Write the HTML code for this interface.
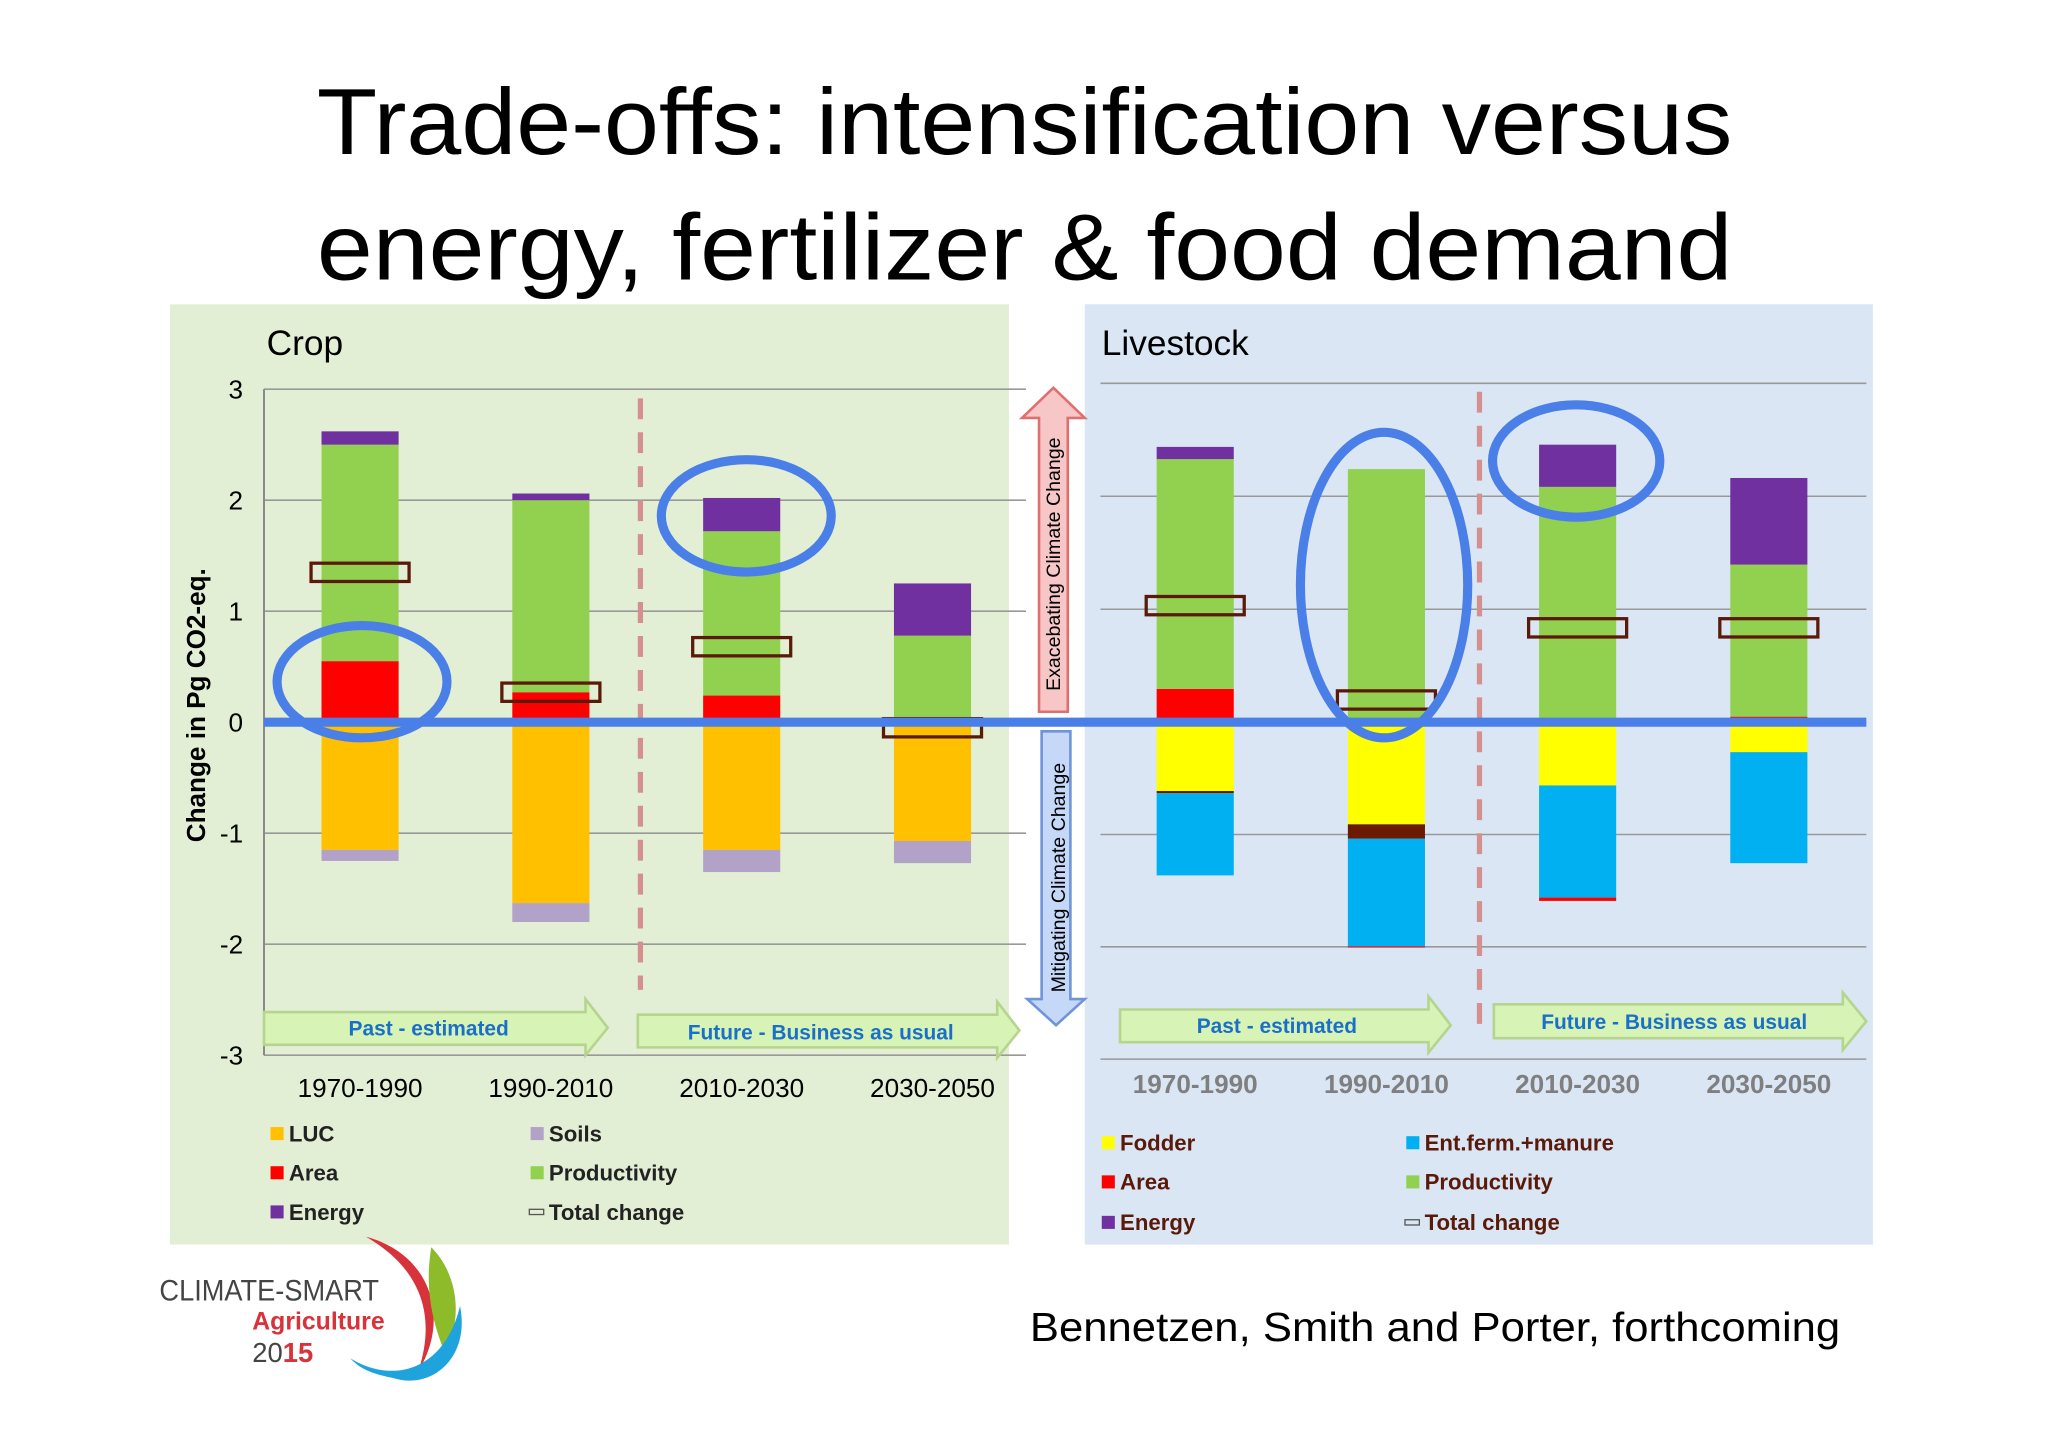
<!DOCTYPE html>
<html><head><meta charset="utf-8"><style>
html,body{margin:0;padding:0;background:#fff;}
svg{display:block;font-family:"Liberation Sans",sans-serif;}
</style></head><body>
<svg id="s" width="2048" height="1447" viewBox="0 0 1567 1108" preserveAspectRatio="none">
<text x="784" y="118" text-anchor="middle" font-size="72" textLength="1083" lengthAdjust="spacingAndGlyphs" fill="#000">Trade-offs: intensification versus</text>
<text x="784" y="214" text-anchor="middle" font-size="72" textLength="1083" lengthAdjust="spacingAndGlyphs" fill="#000">energy, fertilizer &amp; food demand</text>
<rect x="130" y="233" width="642" height="720" fill="#e3efd5"/>
<rect x="830" y="233" width="603" height="720" fill="#dae6f4"/>
<text x="204" y="272" font-size="27">Crop</text>
<text x="843" y="272" font-size="27">Livestock</text>
<g id="grid"></g>
<line x1="202" y1="298" x2="202" y2="808" stroke="#888" stroke-width="1.5"/>
<text transform="translate(157,540) rotate(-90)" text-anchor="middle" font-size="20" font-weight="bold">Change in Pg CO2-eq.</text>
<line x1="490" y1="305" x2="490" y2="758" stroke="#d48f8f" stroke-width="4" stroke-dasharray="16,10"/>
<line x1="1132" y1="300" x2="1132" y2="788" stroke="#d48f8f" stroke-width="4" stroke-dasharray="16,10"/>
<g id="bars"></g>
<line x1="202" y1="553" x2="1428" y2="553" stroke="#4a7fe8" stroke-width="7"/>
<g fill="none" stroke="#4a7fe8" stroke-width="7">
<ellipse cx="277" cy="522" rx="65" ry="43"/>
<ellipse cx="571" cy="395" rx="65" ry="43"/>
<ellipse cx="1059" cy="448" rx="64" ry="117"/>
<ellipse cx="1206" cy="353" rx="64" ry="43"/>
</g>
<path d="M795,545 L795,320 L782,320 L806,297 L830,320 L817,320 L817,545 Z" fill="#f7c6c6" stroke="#e07070" stroke-width="2"/>
<path d="M797,560 L797,765 L786,765 L808,785 L830,765 L819,765 L819,560 Z" fill="#c6d8f7" stroke="#6f95d8" stroke-width="2"/>
<text transform="translate(811,432) rotate(-90)" text-anchor="middle" font-size="15">Exacebating Climate Change</text>
<text transform="translate(815,672) rotate(-90)" text-anchor="middle" font-size="15">Mitigating Climate Change</text>
<g fill="#d7f3b5" stroke="#b5d58e" stroke-width="2">
<path d="M202,775 L448,775 L448,765 L465,787 L448,808 L448,800 L202,800 Z"/>
<path d="M488,777 L763,777 L763,767 L780,789 L763,810 L763,802 L488,802 Z"/>
<path d="M857,773 L1093,773 L1093,763 L1110,785 L1093,806 L1093,798 L857,798 Z"/>
<path d="M1143,769 L1410,769 L1410,760 L1428,782 L1410,804 L1410,795 L1143,795 Z"/>
</g>
<g fill="#1a6fc9" font-weight="bold" font-size="16" text-anchor="middle">
<text x="328" y="793">Past - estimated</text>
<text x="628" y="796">Future - Business as usual</text>
<text x="977" y="791">Past - estimated</text>
<text x="1281" y="788">Future - Business as usual</text>
</g>
<g id="labels"></g>
<g id="legend" font-size="17" font-weight="bold"></g>
<text x="122" y="996" font-size="23" fill="#444" textLength="168" lengthAdjust="spacingAndGlyphs">CLIMATE-SMART</text>
<text x="193" y="1018" font-size="19" font-weight="bold" fill="#d8323a">Agriculture</text>
<text x="193" y="1043" font-size="21" fill="#444">20<tspan fill="#d8323a" font-weight="bold">15</tspan></text>
<g>
<path d="M280,947 C330,960 345,1010 320,1050 C335,1005 320,970 280,947Z" fill="#d8323a"/>
<path d="M330,955 C350,975 355,1010 340,1035 C330,1010 325,985 330,955Z" fill="#8dbb2a"/>
<path d="M268,1040 C300,1060 340,1050 352,1000 C360,1040 330,1065 300,1055 C285,1052 275,1048 268,1040Z" fill="#1ea3dc"/>
</g>
<text x="1408" y="1027" text-anchor="end" font-size="31" textLength="620" lengthAdjust="spacingAndGlyphs">Bennetzen, Smith and Porter, forthcoming</text>
</svg>
<script>
const categories = ["1970-1990","1990-2010","2010-2030","2030-2050"];
const yTicks = [3,2,1,0,-1,-2,-3];
// Crop series (Pg CO2-eq)
const cropLUC = [-1.15,-1.63,-1.15,-1.07];
const cropSoils = [-0.1,-0.17,-0.2,-0.2];
const cropArea = [0.55,0.27,0.24,0.0];
const cropProductivity = [1.95,1.73,1.48,0.78];
const cropEnergy = [0.12,0.06,0.3,0.47];
const cropTotal = [1.35,0.27,0.68,-0.05];
// Livestock series
const lsFodder = [-0.62,-0.92,-0.57,-0.27];
const lsOther = [-0.02,-0.13,0,0];
const lsEnteric = [-0.74,-0.97,-1.01,-1.0];
const lsAreaNeg = [0,-0.01,-0.03,0];
const lsArea = [0.3,0,0,0.05];
const lsProductivity = [2.07,2.28,2.12,1.37];
const lsEnergy = [0.11,0,0.38,0.78];
const lsTotal = [1.05,0.2,0.85,0.85];

const NS="http://www.w3.org/2000/svg";
function mk(tag,attrs,parent){const e=document.createElementNS(NS,tag);for(const k in attrs)e.setAttribute(k,attrs[k]);parent.appendChild(e);return e;}
const y = v => 553 - v*85;
const cropX = i => 246 + i*146;
const lsX = i => 885 + i*146.3;
const BW = 59;
const grid=document.getElementById('grid'), bars=document.getElementById('bars'), labels=document.getElementById('labels'), legend=document.getElementById('legend');
yTicks.forEach(t=>{
  let l=mk('line',{x1:202,x2:785,y1:y(t),y2:y(t),stroke:'#999','stroke-width':1.2},grid);
  
  
  let l2=mk('line',{x1:842,x2:1428,y1:y(t)-(t>0?t*1.5:t*1),y2:y(t)-(t>0?t*1.5:t*1),stroke:'#999','stroke-width':1.2},grid);
  
  
  let tx=mk('text',{x:186,y:y(t)+7,'text-anchor':'end','font-size':20},grid);
  tx.textContent=t;
  
  
});
function stack(xf,i,series,colors,name){
  let pos=0,neg=0;
  series.forEach((s,k)=>{
    const v=s[i]; if(!v) return;
    let y0,y1;
    if(v>0){y0=pos;y1=pos+v;pos=y1;} else {y0=neg;y1=neg+v;neg=y1;}
    const r=mk('rect',{x:xf(i),width:BW,y:y(Math.max(y0,y1)),height:Math.abs(y(y1)-y(y0)),fill:colors[k]},bars);
    
    
  });
}
function total(xf,i,v,name){
  const r=mk('rect',{x:xf(i)-8,width:BW+16,y:y(v)-7,height:14,fill:'none',stroke:'#5a1a0a','stroke-width':2.5},bars);
  
  
}
categories.forEach((c,i)=>{
  stack(cropX,i,[cropLUC,cropSoils,cropArea,cropProductivity,cropEnergy],['#ffc000','#b3a2c7','#ff0000','#92d050','#7030a0'],'crop');
  total(cropX,i,cropTotal[i],'crop');
  stack(lsX,i,[lsFodder,lsOther,lsEnteric,lsAreaNeg,lsArea,lsProductivity,lsEnergy],['#ffff00','#6b1a00','#00b0f0','#ff0000','#ff0000','#92d050','#7030a0'],'livestock');
  total(lsX,i,lsTotal[i],'livestock');
  let t=mk('text',{x:cropX(i)+BW/2,y:840,'text-anchor':'middle','font-size':20},labels);
  t.textContent=c;
  
  
  let t2=mk('text',{x:lsX(i)+BW/2,y:837,'text-anchor':'middle','font-size':20,'font-weight':'bold',fill:'#7f7f7f'},labels);
  t2.textContent=c;
  
  
});
const cropLegend=[["LUC","#ffc000",207,874],["Area","#ff0000",207,904],["Energy","#7030a0",207,934],["Soils","#b3a2c7",406,874],["Productivity","#92d050",406,904],["Total change",null,406,934]];
const lsLegend=[["Fodder","#ffff00",843,881],["Area","#ff0000",843,911],["Energy","#7030a0",843,942],["Ent.ferm.+manure","#00b0f0",1076,881],["Productivity","#92d050",1076,911],["Total change",null,1076,942]];
function leg(items,col,name){
  items.forEach(([lab,c,x,yy])=>{
    if(c){const r=mk('rect',{x:x,y:yy-11,width:10,height:10,fill:c},legend);
      
      }
    else {const r=mk('rect',{x:x-1,y:yy-8,width:11,height:4,fill:'none',stroke:'#555','stroke-width':1},legend);
      
      }
    const t=mk('text',{x:x+14,y:yy,fill:col},legend);
    t.textContent=lab;
    
    
  });
}
leg(cropLegend,'#222','crop');
leg(lsLegend,'#5a1a0a','livestock');
</script>
</body></html>
